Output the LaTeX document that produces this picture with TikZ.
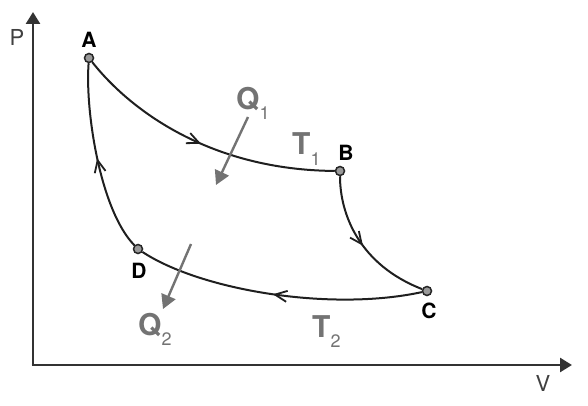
\documentclass[tikz,border=0pt]{standalone}
\usepackage{fontspec}
\setmainfont{TeX Gyre Heros}
\usetikzlibrary{arrows.meta,decorations.markings}
\definecolor{axisgray}{HTML}{333333}
\definecolor{heatgray}{HTML}{737373}
\tikzset{
  axis/.style      = {line width=2.6pt, axisgray,
                      -{Triangle[length=12pt,width=14pt]}},
  axislabel/.style = {text=black!75, inner sep=0pt,
                      font=\fontsize{22}{22}\selectfont},
  state/.style     = {circle, draw=black!85, fill=black!40,
                      line width=1.5pt, inner sep=0pt, minimum size=9pt},
  statelabel/.style= {inner sep=0pt, font=\bfseries\fontsize{21}{21}\selectfont},
  stroke/.style    = {line width=2pt, black!88},
  midarrow/.style  = {postaction={decorate}, decoration={markings,
                      mark=at position #1 with {\arrow{Straight Barb[length=12pt,width=11pt,line width=1.8pt]}}}},
  heat/.style      = {line width=2.4pt, heatgray,
                      -{Triangle[length=14pt,width=15pt]}},
  heatlabel/.style = {text=heatgray, inner sep=0pt, anchor=base west,
                      font=\bfseries\fontsize{30}{30}\selectfont},
}
\newcommand{\withsub}[2]{#1\raisebox{-10pt}{\fontsize{18}{18}\selectfont\mdseries #2}}

\begin{document}
\begin{tikzpicture}[x=1pt,y=-1pt]
  \useasboundingbox (0,0) rectangle (588,406);

  % axes
  \coordinate (origin) at (33,365);
  \coordinate (ptop)   at (33,12);
  \coordinate (vend)   at (572,365);
  \draw[axis] ([xshift=-1.3pt]origin) -- (vend);
  \draw[axis] ([yshift=1.3pt]origin) -- (ptop);
  \node[axislabel] (plab) at (17,37)  {P};
  \node[axislabel] (vlab) at (543,383) {V};

  % states of the cycle
  \node[state] (A) at (89,58)   {};
  \node[state] (B) at (340,171) {};
  \node[state] (C) at (427,291) {};
  \node[state] (D) at (138,249) {};
  \node[statelabel] (Alab) at (89,40)   {A};
  \node[statelabel] (Blab) at (346,153) {B};
  \node[statelabel] (Clab) at (429,311) {C};
  \node[statelabel] (Dlab) at (139,271) {D};

  % the cycle
  \draw[stroke,midarrow=0.5]  (A) .. controls (130,110) and (210,170) .. (B);
  \draw[stroke,midarrow=0.5]  (B) .. controls (340,215) and (360,265) .. (C);
  \draw[stroke,midarrow=0.52] (C) .. controls (330,312) and (200,290) .. (D);
  \draw[stroke,midarrow=0.5]  (D) .. controls (100,210) and (85,110)  .. (A);

  % heat exchanged
  \coordinate (q1from) at (248,117);
  \coordinate (q1to)   at (216,185);
  \coordinate (q2from) at (191,244);
  \coordinate (q2to)   at (163,309);
  \draw[heat] (q1from) -- (q1to);
  \draw[heat] (q2from) -- (q2to);
  \node[heatlabel] (Q1) at (236,110) {\withsub{Q}{1}};
  \node[heatlabel] (Q2) at (138,335) {\withsub{Q}{2}};
  \node[heatlabel] (T1) at (292,155) {\withsub{T}{1}};
  \node[heatlabel] (T2) at (312,337) {\withsub{T}{2}};
\end{tikzpicture}
\end{document}
